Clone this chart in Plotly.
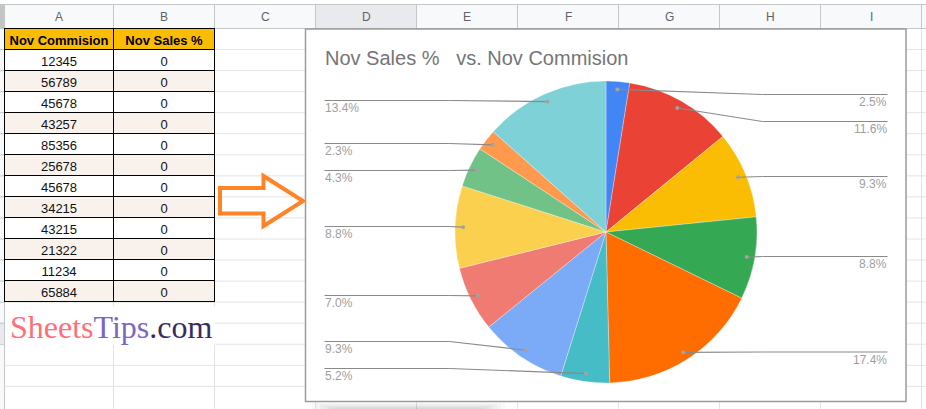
import numpy as np
import plotly.graph_objects as go

# sheet data
col_names = ['A', 'B', 'C', 'D', 'E', 'F', 'G', 'H', 'I']
header = ['Nov\u00a0Commision', 'Nov\u00a0Sales\u00a0%']
commission = [12345, 56789, 45678, 43257, 85356, 25678, 45678, 34215, 43215, 21322, 11234, 65884]
sales = [0, 0, 0, 0, 0, 0, 0, 0, 0, 0, 0, 0]
slice_colors = ['#4285F4', '#EA4335', '#FBBC04', '#34A853', '#FF6D01', '#46BDC6',
                '#7BAAF7', '#F07B72', '#FCD04F', '#71C287', '#FF994D', '#7ED1D7']
title = 'Nov Sales %   vs. Nov Commision'

# layout of the screenshot, in pixels
W, H = 926, 409
col_edges = [4.5, 113.5, 214.5, 315.5, 416.5, 517.5, 618.5, 719.5, 820.5, 921.5]
row_top, row_h = 28.5, 21.05
cx, cy, radius = 606, 232, 151
label_rows = [94.5, 121.5, 176.5, 256.5, 352, 368.5, 341.5, 295.5, 226.5, 170.5, 143.5, 100.5]
GRID = '#e2e3e3'
HEAD_LINE = '#c4c7c5'

shapes = []


def rect(x0, y0, x1, y1, fill, line=None, width=1, layer='below'):
    shapes.append(dict(type='rect', xref='x', yref='y', x0=x0, y0=y0, x1=x1, y1=y1, fillcolor=fill,
                       line=dict(color=line or fill, width=width if line else 0), layer=layer))


def seg(x0, y0, x1, y1, color, width=1, layer='below'):
    shapes.append(dict(type='line', xref='x', yref='y', x0=x0, y0=y0, x1=x1, y1=y1,
                       line=dict(color=color, width=width), layer=layer))


# sheet grid and headers
for k in range(1, 18):
    seg(4.5, row_top + row_h * k, W, row_top + row_h * k, GRID)
for x in col_edges:
    seg(x, 28.5, x, H, GRID)
rect(0, 4.5, W, 28.5, '#f8f9fa')
rect(315.5, 4.5, 416.5, 28.5, '#e8eaed')
rect(0, 28.5, 4, H, '#f8f9fa')
rect(0, 4.5, 4.5, 28.5, '#c4c4c4')
rect(0, 322.5, 4, 343.5, '#e8eaed')
seg(0, 4.5, W, 4.5, HEAD_LINE)
seg(0, 28.5, W, 28.5, HEAD_LINE)
seg(4.5, 4.5, 4.5, H, HEAD_LINE)
for x in col_edges[1:]:
    seg(x, 4.5, x, 28.5, HEAD_LINE)
for k in range(1, 16):
    seg(0, row_top + row_h * k, 4.5, row_top + row_h * k, HEAD_LINE)

# soft shadow below the chart box
for k in range(7):
    rect(312 + k * 4, 402.5 + k, 505 - k * 4, H, 'rgba(0,0,0,0.022)')

# chart box
rect(305.5, 29, 906, 401.5, 'white', '#9a9a9a', 1.5)

# logo backing
rect(5, 306, 215, 345, 'white')

# arrow between table and chart
arrow = 'M220,188 L263.5,188 L263.5,176 L303,201 L263.5,226 L263.5,213.5 L220,213.5 Z'
shapes.append(dict(type='path', xref='x', yref='y', path=arrow, fillcolor='rgba(0,0,0,0)',
                   line=dict(color='#FF8427', width=4), layer='above'))

total = sum(commission)
annotations = []


def text(x, y, s, size, color, anchor='center', family='Liberation Sans'):
    annotations.append(dict(x=x, y=y, xref='x', yref='y', text=s, showarrow=False, xanchor=anchor,
                            yanchor='middle', font=dict(size=size, color=color, family=family)))


# leader lines and labels, worked out from the slice angles
running = 0
for value, row_y in zip(commission, label_rows):
    mid = (running + value / 2) / total * 2 * np.pi
    running += value
    dot_x = cx + 143 * np.sin(mid)
    dot_y = cy - 143 * np.cos(mid)
    right = dot_x > cx
    elbow = 762.5 if right else 449.5
    end = 887.5 if right else 324.5
    seg(dot_x, dot_y, elbow, row_y, '#8a8a8a', 1.2, 'above')
    seg(elbow, row_y, end, row_y, '#8a8a8a', 1.2, 'above')
    shapes.append(dict(type='circle', xref='x', yref='y', x0=dot_x - 2, x1=dot_x + 2, y0=dot_y - 2,
                       y1=dot_y + 2, fillcolor='#a3a3a3', line=dict(width=0), layer='above'))
    text(end + (1 if right else -1.5), row_y + 7.5, f'{value / total:.1%}', 12, '#9e9e9e',
         'right' if right else 'left')

for name, x0, x1 in zip(col_names, col_edges[:-1], col_edges[1:]):
    text((x0 + x1) / 2, 16.5, name, 12, '#5f6368')

text(323, 58, title, 20, '#757575', 'left')
text(7.5, 327, '<span style="color:#FF6F78">Sheets</span><span style="color:#7B68BE">Tips</span>'
     '<span style="color:#3A2A63">.com</span>', 32, '#3A2A63', 'left', 'Liberation Serif')

row_fill = ['white' if k % 2 == 0 else '#F8F1EC' for k in range(len(commission))]

table = go.Table(
    domain=dict(x=[4.5 / W, 214.5 / W], y=[1 - 303 / H, 1 - 28.5 / H]),
    columnwidth=[109, 101],
    header=dict(values=header, height=21, align='center',
                fill_color='#FBBC04', line=dict(color='black', width=1),
                font=dict(family='Liberation Sans', size=13, color='black', weight='bold')),
    cells=dict(values=[commission, sales], height=21, align='center',
               fill_color=[row_fill, row_fill], line=dict(color='black', width=1),
               font=dict(family='Liberation Sans', size=13, color='#111111')),
)

pie = go.Pie(
    values=commission,
    sort=False,
    direction='clockwise',
    rotation=0,
    textinfo='none',
    hoverinfo='percent',
    marker=dict(colors=slice_colors, line=dict(color='white', width=0.3)),
    domain=dict(x=[(cx - radius) / W, (cx + radius) / W], y=[1 - (cy + radius) / H, 1 - (cy - radius) / H]),
    showlegend=False,
)

fig = go.Figure(data=[table, pie])
fig.update_layout(
    width=W, height=H,
    margin=dict(l=0, r=0, t=0, b=0),
    paper_bgcolor='white', plot_bgcolor='white',
    xaxis=dict(range=[0, W], visible=False, domain=[0, 1], fixedrange=True),
    yaxis=dict(range=[H, 0], visible=False, domain=[0, 1], fixedrange=True),
    shapes=shapes,
    annotations=annotations,
)
# table text sits a little low in its rows, nudge it up once drawn
nudge = ("document.body.style.margin='0';document.body.style.overflow='hidden';"
         "document.querySelectorAll('.cell-text').forEach(function(t){t.style.transform='translateY(-1.5px)';});")
fig.write_html('out.html', config=dict(displayModeBar=False), post_script=nudge)
